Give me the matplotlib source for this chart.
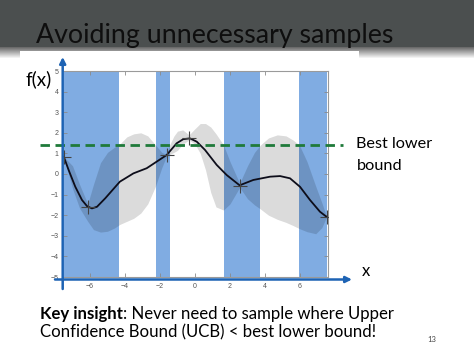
import matplotlib
matplotlib.use("Agg")
import matplotlib.pyplot as plt
import numpy as np
from matplotlib.patches import Rectangle

plt.rcParams['font.family'] = ['Lato', 'DejaVu Sans']

# slide text
title = "Avoiding unnecessary samples"
insight_bold = "Key insight"
insight_rest = ": Never need to sample where Upper"
insight_line2 = "Confidence Bound (UCB) < best lower bound!"
page_no = "13"

# GP posterior mean
mean_x = [-7.5, -7.22, -6.84, -6.46, -6.17, -5.89, -5.6, -5.13, -4.55, -4.29, -3.98,
          -3.52, -2.76, -2.19, -1.62, -1.05, -0.67, -0.29, 0.1, 0.57, 1.24, 1.81,
          2.55, 3.33, 4.29, 4.86, 5.43, 6.0, 6.57, 7.14, 7.52]
mean_y = [0.84, 0.19, -0.62, -1.26, -1.56, -1.67, -1.59, -1.18, -0.62, -0.37, -0.21,
          0.03, 0.28, 0.6, 0.92, 1.49, 1.69, 1.73, 1.57, 1.17, 0.44, -0.05,
          -0.55, -0.29, -0.13, -0.1, -0.21, -0.62, -1.26, -1.83, -2.08]

# observed samples
sample_x = [-7.5, -6.13, -1.62, -0.34, 2.55, 7.52]
sample_y = [0.84, -1.59, 0.92, 1.75, -0.58, -2.08]

# confidence band
band_x = [-7.5, -7.0, -6.6, -6.13, -5.8, -5.4, -5.0, -4.6, -4.3, -3.9, -3.5, -3.1,
          -2.7, -2.26, -1.9, -1.62, -1.45, -1.2, -1.0, -0.7, -0.34, 0.0, 0.3, 0.6,
          0.9, 1.2, 1.63, 2.0, 2.55, 3.0, 3.4, 3.74, 4.2, 4.7, 5.2, 5.6, 5.96, 6.4,
          6.9, 7.25, 7.52]
band_upper = [0.84, 0.4, -0.5, -1.45, -0.5, 0.55, 1.05, 1.3, 1.45, 1.8, 1.95, 2.0,
              1.85, 1.41, 1.05, 0.95, 1.41, 1.85, 2.08, 2.14, 1.9, 2.2, 2.45, 2.45,
              2.28, 1.95, 1.41, 0.6, -0.45, 0.4, 1.05, 1.41, 1.75, 1.9, 1.85, 1.65,
              1.41, 0.6, -0.6, -1.4, -2.08]
band_lower = [0.84, -0.7, -1.65, -2.3, -2.7, -2.82, -2.78, -2.62, -2.45, -2.3, -2.15,
              -1.9, -1.45, -0.6, 0.3, 0.88, 0.95, 1.05, 1.15, 1.45, 1.65, 1.45, 1.0,
              0.2, -0.9, -1.6, -1.75, -1.45, -0.65, -1.2, -1.5, -1.7, -2.0, -2.2,
              -2.35, -2.5, -2.65, -2.8, -2.9, -2.6, -2.08]

# regions where UCB < best lower bound
prune_spans = [(-7.5, -4.36), (-2.25, -1.45), (1.63, 3.74), (5.96, 7.56)]
best_lower = 1.41

x_ticks = [-6, -4, -2, 0, 2, 4, 6]
y_ticks = [-5, -4, -3, -2, -1, 0, 1, 2, 3, 4, 5]

W, H = 474, 355
fig = plt.figure(figsize=(W / 100, H / 100), dpi=100)

# slide background (pixel coordinates)
bg = fig.add_axes([0, 0, 1, 1], zorder=0)
bg.set_xlim(0, W)
bg.set_ylim(H, 0)
bg.axis('off')
bg.add_patch(Rectangle((0, 0), W, 47, color='#4b4f4f', lw=0))
shade = np.linspace(0, 1, 12)
for i, s in enumerate(shade):
    c = 0.42 + 0.58 * s
    bg.add_patch(Rectangle((0, 47 + i), W, 1.05, color=(c, c, c), lw=0))
bg.add_patch(Rectangle((20, 50.5), 339, 20, color='white', lw=0))
bg.text(36, 42.5, title, fontsize=19.3, color='#0e0e0e', va='baseline', zorder=5)

# chart
ax = fig.add_axes([62.7 / W, 1 - 277 / H, (328 - 62.7) / W, (277 - 71) / H], zorder=1)
for a, b in prune_spans:
    ax.axvspan(a, b, color='#80ace2', lw=0, zorder=1)
ax.fill_between(band_x, band_lower, band_upper, color='black', alpha=0.14, lw=0, zorder=2)
ax.plot(mean_x, mean_y, color='#0d0d1a', lw=1.3, zorder=3)
ax.plot(sample_x, sample_y, '+', color='#444444', ms=10, mew=0.8, zorder=4)
ax.axhline(best_lower, xmin=(40 - 62.7) / (328 - 62.7), xmax=(343 - 62.7) / (328 - 62.7),
           color='#1f7a3a', lw=2.0, ls=(0, (3.4, 2.0)), clip_on=False, zorder=5)
ax.set_xlim(-7.56, 7.6)
ax.set_ylim(-5, 5)
ax.set_xticks(x_ticks)
ax.set_yticks(y_ticks)
ax.tick_params(direction='in', length=3, width=0.6, color='#8a8a8a', labelsize=5,
               labelcolor='#555555', top=True, right=True, pad=3)
for lab in ax.get_xticklabels() + ax.get_yticklabels():
    lab.set_family(['Liberation Sans', 'DejaVu Sans'])
ax.tick_params(axis='x', pad=4.5)
for side in ['top', 'right', 'bottom']:
    ax.spines[side].set_color('#9a9a9a')
    ax.spines[side].set_linewidth(0.8)
ax.spines['left'].set_visible(False)

# overlay for arrows and slide text
fg = fig.add_axes([0, 0, 1, 1], zorder=2)
fg.set_xlim(0, W)
fg.set_ylim(H, 0)
fg.axis('off')
fg.patch.set_alpha(0)
blue = '#1d63b4'
fg.annotate('', xy=(62.7, 57), xytext=(62.7, 289),
            arrowprops=dict(arrowstyle='-|>', color=blue, lw=1.8, mutation_scale=9,
                            shrinkA=0, shrinkB=0))
fg.annotate('', xy=(352, 279.5), xytext=(55, 279.5),
            arrowprops=dict(arrowstyle='-|>', color=blue, lw=1.8, mutation_scale=9,
                            shrinkA=0, shrinkB=0))

fg.text(26, 85, "f(x)", fontsize=13.5, color='black', va='baseline')
fg.text(362, 276, "x", fontsize=12, color='black', va='baseline')
fg.text(356.5, 148.5, "Best lower", fontsize=11.7, color='black', va='baseline')
fg.text(356.5, 170, "bound", fontsize=11.7, color='black', va='baseline')

t1 = fg.text(40, 319.5, insight_bold, fontsize=12.1, fontweight='bold', color='black',
             va='baseline')
fig.canvas.draw()
bb = t1.get_window_extent(renderer=fig.canvas.get_renderer())
x_after = bb.x1 * W / fig.bbox.width
fg.text(x_after, 319.5, insight_rest, fontsize=12.1, color='black', va='baseline')
fg.text(40, 337, insight_line2, fontsize=12.1, color='black', va='baseline')
fg.text(427, 342, page_no, fontsize=5.5, color='#444444', va='baseline')

fig.savefig('out.png', dpi=100)
